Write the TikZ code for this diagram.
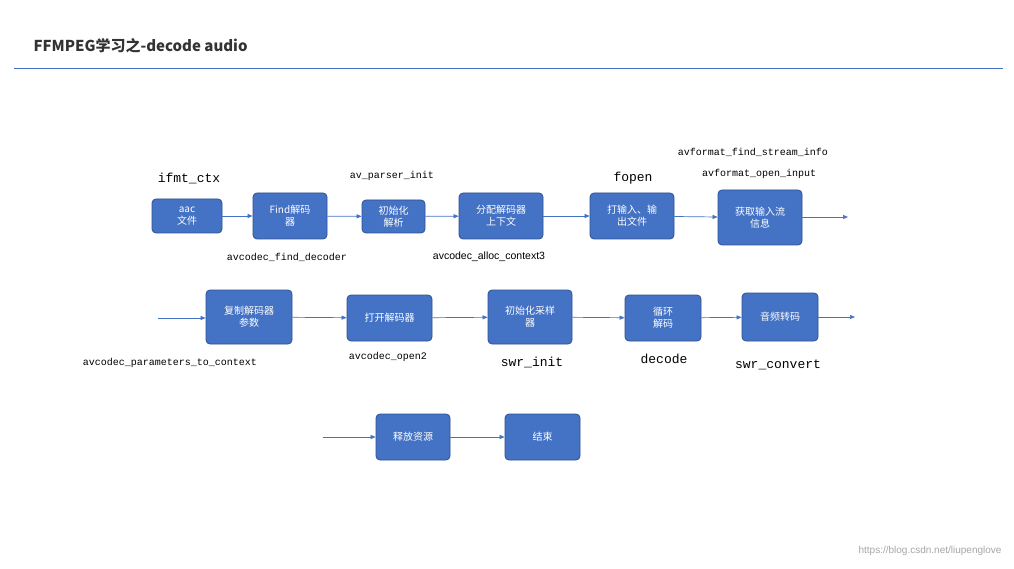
\documentclass[tikz,border=0pt]{standalone}
\usepackage{fontspec}
\setmainfont{Liberation Sans}
\newfontfamily\cjk{Noto Sans CJK SC}
\newfontfamily\mono{Liberation Mono}
\usetikzlibrary{arrows.meta}
\definecolor{boxfill}{HTML}{4472C4}
\definecolor{boxdraw}{HTML}{2F528F}
\begin{document}
\begin{tikzpicture}[x=1pt,y=-1pt,
  box/.style={draw=boxdraw,fill=boxfill,rounded corners=4pt,line width=0.8pt,text=white,font=\cjk\fontsize{10}{12}\selectfont,align=center,inner sep=0pt},
  arr/.style={draw=boxfill,line width=0.7pt,-{Triangle[length=5pt,width=4pt]}},
  ml/.style={font=\mono\fontsize{10}{12}\selectfont},
  bl/.style={font=\mono\fontsize{13}{15}\selectfont}]
\useasboundingbox (0,0) rectangle (1014,569);
\fill[white] (0,0) rectangle (1014,569);
\node[anchor=west,font=\cjk\bfseries\fontsize{15}{18}\selectfont,text=black!80] (title) at (30,46) {FFMPEG学习之-decode audio};
\draw[boxfill,line width=0.6pt] (14,68) -- (1003,68);
% row1
\node[box,minimum width=70pt,minimum height=34pt] (a1) at (187,216) {aac\\文件};
\node[box,minimum width=74pt,minimum height=46pt] (a2) at (290,216) {Find解码\\器};
\node[box,minimum width=63pt,minimum height=33pt] (a3) at (393.5,216.5) {初始化\\解析};
\node[box,minimum width=84pt,minimum height=46pt] (a4) at (501,216) {分配解码器\\上下文};
\node[box,minimum width=84pt,minimum height=46pt] (a5) at (632,216) {打输入、输\\出文件};
\node[box,minimum width=84pt,minimum height=55pt] (a6) at (760,217.5) {获取输入流\\信息};
\coordinate (e1) at (848,217);
\draw[arr] (a1) -- (a2); \draw[arr] (a2) -- (a3); \draw[arr] (a3) -- (a4);
\draw[arr] (a4) -- (a5); \draw[arr] (a5) -- (a6); \draw[arr] (a6.east|-e1) -- (e1);
% row2
\coordinate (s2) at (158,318);
\node[box,minimum width=86pt,minimum height=54pt] (b1) at (249,317) {复制解码器\\参数};
\node[box,minimum width=85pt,minimum height=46pt] (b2) at (389.5,318) {打开解码器};
\node[box,minimum width=84pt,minimum height=54pt] (b3) at (530,317) {初始化采样\\器};
\node[box,minimum width=76pt,minimum height=46pt] (b4) at (663,318) {循环\\解码};
\node[box,minimum width=76pt,minimum height=48pt] (b5) at (780,317) {音频转码};
\coordinate (e2) at (855,317);
\draw[arr] (s2) -- (s2-|b1.west); \draw[arr] (b1) -- (b2); \draw[arr] (b2) -- (b3);
\draw[arr] (b3) -- (b4); \draw[arr] (b4) -- (b5); \draw[arr] (b5) -- (e2);
% row3
\coordinate (s3) at (323,437);
\node[box,minimum width=74pt,minimum height=46pt] (c1) at (413,437) {释放资源};
\node[box,minimum width=75pt,minimum height=46pt] (c2) at (542.5,437) {结束};
\draw[arr] (s3) -- (c1); \draw[arr] (c1) -- (c2);
% labels
\node[bl] (l1) at (189,178) {ifmt\_ctx};
\node[ml] (l2) at (392,176) {av\_parser\_init};
\node[ml] (l3) at (287,257) {avcodec\_find\_decoder};
\node[font=\fontsize{10.5}{12}\selectfont] (l4) at (489,257) {avcodec\_alloc\_context3};
\node[bl] (l5) at (633,178) {fopen};
\node[ml] (l6) at (753,152) {avformat\_find\_stream\_info};
\node[ml] (l7) at (759,174) {avformat\_open\_input};
\node[ml] (l8) at (170,363) {avcodec\_parameters\_to\_context};
\node[ml] (l9) at (388,357) {avcodec\_open2};
\node[bl] (l10) at (532,362) {swr\_init};
\node[bl] (l11) at (664,359) {decode};
\node[bl] (l12) at (778,365) {swr\_convert};
\node[text=black!35,font=\fontsize{10}{12}\selectfont,anchor=east] (wm) at (1005,551) {https://blog.csdn.net/liupenglove};
\end{tikzpicture}
\end{document}
